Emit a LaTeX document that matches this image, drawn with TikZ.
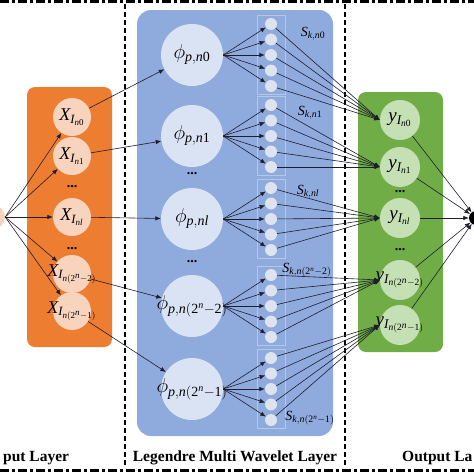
\documentclass[tikz,border=0pt]{standalone}
\usepackage{fix-cm}
\usepackage{mathspec}
\setmainfont{Liberation Serif}
\setmathsfont(Digits,Latin){Liberation Serif}
\usetikzlibrary{arrows.meta}
\definecolor{boxorange}{HTML}{ED7D31}
\definecolor{peach}{HTML}{F8D3BD}
\definecolor{boxblue}{HTML}{8FAADC}
\definecolor{phiblue}{HTML}{DAE3F3}
\definecolor{paleblue}{HTML}{DDE4F0}
\definecolor{groupline}{HTML}{B4C7E7}
\definecolor{boxgreen}{HTML}{70AD47}
\definecolor{palegreen}{HTML}{C5E0B4}
\definecolor{linecol}{HTML}{1E1E2E}
\newcommand{\nodelbl}[1]{\makebox[0pt]{$#1$}}
\tikzset{   orangebox/.style = {rectangle, rounded corners = 8pt, fill = boxorange},
            bluebox/.style = {rectangle, rounded corners = 14pt, fill = boxblue},
            greenbox/.style = {rectangle, rounded corners = 8pt, fill = boxgreen},
            xnode/.style = {circle, fill = peach, minimum size = 38pt, inner sep = 0pt, font = \fontsize{18}{18}\selectfont},
            phinode/.style = {circle, fill = phiblue, minimum size = 62pt, inner sep = 0pt, font = \fontsize{20}{20}\selectfont},
            snode/.style = {circle, fill = paleblue, minimum size = 12pt, inner sep = 0pt},
            group/.style = {rectangle, draw = groupline, line width = 0.5pt, minimum width = 28pt, minimum height = 79pt},
            ynode/.style = {circle, fill = palegreen, minimum size = 40pt, inner sep = 0pt, font = \fontsize{19}{19}\selectfont},
            slabel/.style = {inner sep = 0pt, font = \fontsize{14}{14}\selectfont},
            dots/.style = {inner sep = 0pt, font = \fontsize{14}{14}\selectfont\bfseries},
            layer/.style = {inner sep = 0pt, font = \fontsize{15.5}{17}\selectfont\bfseries},
            link/.style = {->, line width = 0.6pt, draw = linecol},
            frameline/.style = {line width = 3pt, dash pattern = on 9pt off 3pt on 3pt off 3pt},
            sepline/.style = {line width = 1.5pt, dash pattern = on 5pt off 3pt}}
\begin{document}
\begin{tikzpicture}[x=1pt, y=-1pt, >={Latex[length=5.5pt,width=4.5pt]}]
\useasboundingbox (0,0) rectangle (474,474);
\clip (0,0) rectangle (474,474);
% frame and layer separators
\draw[frameline] (0,1.5) -- (474,1.5);
\draw[frameline] (0,470) -- (474,470);
\draw[sepline] (125,4) -- (125,467);
\draw[sepline] (345,4) -- (345,467);
% layer boxes
\node[orangebox, minimum width = 85pt, minimum height = 260pt] (inbox) at (69.5,217) {};
\node[bluebox, minimum width = 196pt, minimum height = 426pt] (wavebox) at (235,223) {};
\node[greenbox, minimum width = 85pt, minimum height = 260pt] (outbox) at (400.5,222) {};
% input layer
\node[xnode, minimum size = 24pt] (in) at (-7,217) {};
\node[xnode] (x1) at (72,117) {\nodelbl{X_{I_{n0}}}};
\node[xnode] (x2) at (72,156) {\nodelbl{X_{I_{n1}}}};
\node[xnode] (x3) at (72,217) {\nodelbl{X_{I_{nl}}}};
\node[xnode] (x4) at (72,274) {\nodelbl{X_{I_{n(2^n-2)}}}};
\node[xnode] (x5) at (72,311) {\nodelbl{X_{I_{n(2^n-1)}}}};
\node[dots] (xd1) at (72,187) {...};
\node[dots] (xd2) at (72,249) {...};
% wavelet layer
\node[phinode] (p1) at (192,55) {\nodelbl{\phi_{p,n0}}};
\node[phinode] (p2) at (192,136) {\nodelbl{\phi_{p,n1}}};
\node[phinode] (p3) at (192,219) {\nodelbl{\phi_{p,nl}}};
\node[phinode] (p4) at (192,306) {\nodelbl{\phi_{p,n(2^n-2)}}};
\node[phinode] (p5) at (192,389) {\nodelbl{\phi_{p,n(2^n-1)}}};
\node[dots] (pd1) at (192,174) {...};
\node[dots] (pd2) at (192,262) {...};
\foreach \g/\py in {1/55,2/136,3/219,4/306,5/389} {
    \node[group] (g\g) at (271,\py) {};
    \foreach \k in {1,...,5}
        \node[snode] (s\g\k) at (271,{\py+(\k-3)*15.5}) {};
}
\node[slabel] (l1) at (313,34) {$S_{k,n0}$};
\node[slabel] (l2) at (310,113) {$S_{k,n1}$};
\node[slabel] (l3) at (308,192) {$S_{k,nl}$};
\node[slabel] (l4) at (307,270) {$S_{k,n(2^n-2)}$};
\node[slabel] (l5) at (310,418) {$S_{k,n(2^n-1)}$};
% output layer
\node[ynode] (y1) at (400,120) {\nodelbl{y_{I_{n0}}}};
\node[ynode] (y2) at (400,167) {\nodelbl{y_{I_{n1}}}};
\node[ynode] (y3) at (400,218) {\nodelbl{y_{I_{nl}}}};
\node[ynode] (y4) at (400,280) {\nodelbl{y_{I_{n(2^n-2)}}}};
\node[ynode] (y5) at (400,325) {\nodelbl{y_{I_{n(2^n-1)}}}};
\node[dots] (yd1) at (400,192) {...};
\node[dots] (yd2) at (400,250) {...};
\node[circle, fill = black, minimum size = 14pt] (out) at (476,218) {};
% connections
\foreach \i in {1,...,5} {
    \draw[link] (in.east) -- (x\i);
    \draw[link] (x\i) -- (p\i);
    \foreach \k in {1,...,5} {
        \draw[link] (p\i.east) -- (s\i\k);
        \draw[link] (s\i\k) -- (y\i.west);
    }
    \draw[link] (y\i) -- (out);
}
% layer names
\node[layer, anchor = west] (inname) at (3,458) {put Layer};
\node[layer] (wavename) at (235,458) {Legendre Multi Wavelet Layer};
\node[layer, anchor = west] (outname) at (402,458) {Output La};
\end{tikzpicture}
\end{document}
